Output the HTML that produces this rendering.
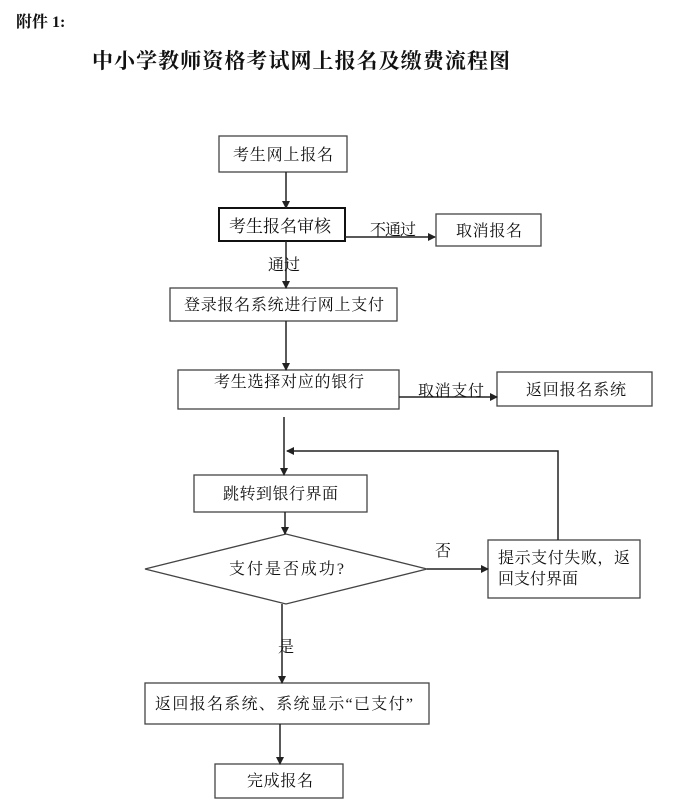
<!DOCTYPE html>
<html><head><meta charset="utf-8"><style>
body{margin:0;background:#fff;width:677px;height:807px;overflow:hidden}
svg text{font-family:"Liberation Serif","Noto Serif CJK SC","Noto Sans CJK SC",serif;fill:#111}
</style></head><body>
<svg width="677" height="807" viewBox="0 0 677 807" xmlns="http://www.w3.org/2000/svg">
<defs><marker id="a" markerWidth="8" markerHeight="8" refX="7" refY="4" orient="auto" markerUnits="userSpaceOnUse"><path d="M0,0 L8,4 L0,8 z" fill="#222"/></marker></defs>
<text x="16" y="27" font-size="16" font-weight="bold">附件 1:</text>
<text x="92" y="68" font-size="21" font-weight="bold" textLength="418">中小学教师资格考试网上报名及缴费流程图</text>
<g fill="none" stroke="#444" stroke-width="1.3">
<rect x="219" y="136" width="128" height="36"/>
<rect x="219" y="208" width="126" height="33" stroke="#111" stroke-width="2"/>
<rect x="436" y="214" width="105" height="32"/>
<rect x="170" y="288" width="227" height="33"/>
<rect x="178" y="370" width="221" height="39"/>
<rect x="497" y="372" width="155" height="34"/>
<rect x="194" y="475" width="173" height="37"/>
<polygon points="145,569 286,534 427,569 286,604"/>
<rect x="488" y="540" width="152" height="58"/>
<rect x="145" y="683" width="284" height="41"/>
<rect x="215" y="764" width="128" height="34"/>
</g>
<g stroke="#222" stroke-width="1.5" fill="none" marker-end="url(#a)">
<line x1="286" y1="172" x2="286" y2="208"/>
<line x1="345" y1="237" x2="435" y2="237"/>
<line x1="286" y1="241" x2="286" y2="288"/>
<line x1="286" y1="321" x2="286" y2="370"/>
<line x1="399" y1="397" x2="497" y2="397"/>
<line x1="284" y1="417" x2="284" y2="475"/>
<polyline points="558,540 558,451 287,451"/>
<line x1="285" y1="512" x2="285" y2="534"/>
<line x1="427" y1="569" x2="488" y2="569"/>
<line x1="282" y1="604" x2="282" y2="683"/>
<line x1="280" y1="724" x2="280" y2="764"/>
</g>
<g font-size="16">
<text x="233" y="160" textLength="100">考生网上报名</text>
<text x="229" y="232" font-size="17" font-family="Liberation Sans,Noto Sans CJK SC,sans-serif" textLength="102">考生报名审核</text>
<text x="370" y="235" textLength="46">不通过</text>
<text x="456" y="236" textLength="66">取消报名</text>
<text x="268" y="270">通过</text>
<text x="184" y="310" textLength="200">登录报名系统进行网上支付</text>
<text x="214" y="387" textLength="150">考生选择对应的银行</text>
<text x="418" y="396" textLength="66">取消支付</text>
<text x="526" y="395" textLength="100">返回报名系统</text>
<text x="223" y="499" textLength="115">跳转到银行界面</text>
<text x="229" y="574" textLength="115">支付是否成功?</text>
<text x="435" y="556">否</text>
<text x="498" y="563" textLength="132">提示支付失败，返</text>
<text x="498" y="584">回支付界面</text>
<text x="278" y="652">是</text>
<text x="155" y="709" textLength="258">返回报名系统、系统显示“已支付”</text>
<text x="247" y="786" textLength="66">完成报名</text>
</g>
</svg>
</body></html>
